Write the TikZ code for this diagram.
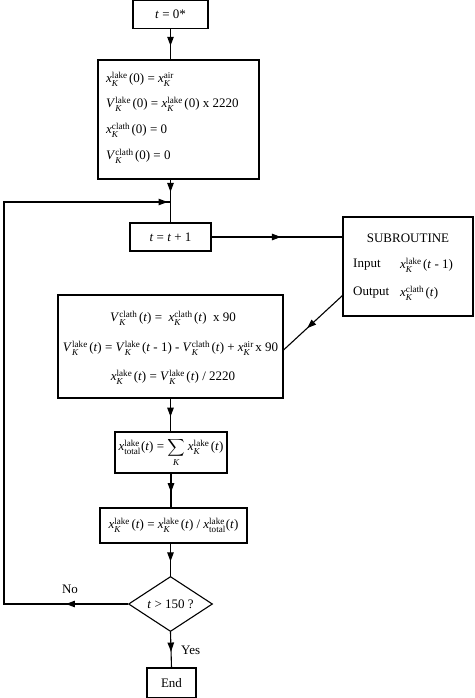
\documentclass[tikz,border=0pt]{standalone}
\usepackage{amsmath}
\usepackage{fontspec}
\setmainfont{Liberation Serif}
\usetikzlibrary{arrows.meta,shapes.geometric,decorations.markings,calc}
\newcommand\vv[3]{\textit{#1}$^{\text{#2}}_{\textit{#3}}$\hspace{1.5pt}}
\newcommand\vt[2]{\textit{#1}$^{\text{#2}}_{\text{total}}$}
\tikzset{
  box/.style={draw, line width=1.1pt, rectangle, inner sep=0pt},
  flow/.style={line width=1.1pt},
  midarrow/.style={postaction={decorate}, decoration={markings, mark=at position #1 with {\arrow{Triangle[length=9pt,width=6.5pt]}}}},
  txt/.style={inner sep=0pt},
}
\begin{document}
\begin{tikzpicture}[x=1pt,y=-1pt,font=\fontsize{13}{15}\selectfont]
\useasboundingbox (0,0) rectangle (474,698);
% boxes
\node[box, minimum width=75pt, minimum height=28pt] (b1) at (170.5,14.5) {\textit{t} = 0*};
\node[box, minimum width=161pt, minimum height=119pt] (b2) at (178.5,119.5) {};
\node[txt, anchor=west] (l1) at (106,79) {\vv{x}{lake}{K}(0) = \vv{x}{air}{K}};
\node[txt, anchor=west] (l2) at (106,104) {\vv{V}{lake}{K}(0) = \vv{x}{lake}{K}(0) x 2220};
\node[txt, anchor=west] (l3) at (106,130) {\vv{x}{clath}{K}(0) = 0};
\node[txt, anchor=west] (l4) at (106,156) {\vv{V}{clath}{K}(0) = 0};
\coordinate (j) at (170.5,202);
\coordinate (c2) at (4,202);
\node[box, minimum width=81pt, minimum height=28pt] (tb) at (170.5,237) {\textit{t} = \textit{t} + 1};
\node[box, minimum width=130pt, minimum height=99pt] (sub) at (408,266.5) {};
\node[txt] (st) at (408,238) {SUBROUTINE};
\node[txt, anchor=west] (in) at (353,265) {Input};
\node[txt, anchor=west] (inf) at (400,265) {\vv{x}{lake}{K}(\textit{t} - 1)};
\node[txt, anchor=west] (out) at (353,293) {Output};
\node[txt, anchor=west] (outf) at (400,293) {\vv{x}{clath}{K}(\textit{t})};
\node[box, minimum width=225pt, minimum height=103pt] (b3) at (170.5,346.5) {};
\node[txt] (m1) at (173,318) {\vv{V}{clath}{K}(\textit{t}) = \ \vv{x}{clath}{K}(\textit{t}) \ x 90};
\node[txt] (m2) at (170.5,348) {\vv{V}{lake}{K}(\textit{t}) = \vv{V}{lake}{K}(\textit{t} - 1) - \vv{V}{clath}{K}(\textit{t}) + \vv{x}{air}{K}x 90};
\node[txt] (m3) at (173,377) {\vv{x}{lake}{K}(\textit{t}) = \vv{V}{lake}{K}(\textit{t}) / 2220};
\node[box, minimum width=112pt, minimum height=41pt] (b4) at (171,452.5) {\vt{x}{lake}(\textit{t}) = $\displaystyle\sum_{\textit{K}}$ \vv{x}{lake}{K}(\textit{t})};
\node[box, minimum width=147pt, minimum height=35pt] (b5) at (173.5,525.5) {\vv{x}{lake}{K}(\textit{t}) = \vv{x}{lake}{K}(\textit{t}) / \vt{x}{lake}(\textit{t})};
\node[draw, line width=1.1pt, diamond, inner sep=0pt, minimum width=84pt, minimum height=50pt] (d) at (170.5,604) {\textit{t} > 150 ?};
\node[box, minimum width=49pt, minimum height=30pt] (e) at (171.5,683) {End};
\node[txt] (no) at (70,589) {No};
\node[txt, anchor=west] (yes) at (181,650) {Yes};
% connectors
\draw[flow, midarrow=0.55] (b1.south) -- (b1.south |- b2.north);
\draw[flow, midarrow=0.55] (j |- b2.south) -- (j);
\draw[flow] (j) -- (tb.north);
\draw[flow, midarrow=0.53] (tb.east) -- (sub.west |- tb.east);
\draw[flow, midarrow=0.6] ($(sub.south west)+(0,-21)$) -- ($(b3.east)+(0,3.5)$);
\draw[flow, midarrow=0.55] (b3.south) -- (b3.south |- b4.north);
\draw[flow, midarrow=0.55] (b4.south) -- (b4.south |- b5.north);
\draw[flow, midarrow=0.55] (d.north |- b5.south) -- (d.north);
\draw[flow, midarrow=0.55] (d.south) -- (e.north);
\draw[flow, line join=miter, postaction={decorate}, decoration={markings,
  mark=at position 62pt with {\arrow{Triangle[length=9pt,width=6.5pt]}},
  mark=at position -3pt with {\arrow{Triangle[length=9pt,width=6.5pt]}}}]
  (d.west) -- (c2 |- d.west) -- (c2) -- (j);
\end{tikzpicture}
\end{document}
